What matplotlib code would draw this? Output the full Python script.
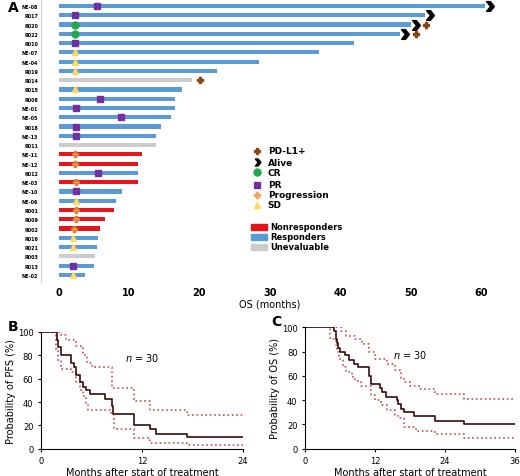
import matplotlib
matplotlib.use("Agg")
import matplotlib.pyplot as plt
from matplotlib.path import Path

# ---- panel A data (top to bottom) ----
patients = ["NE-08", "R017", "R020", "R022", "R010", "NE-07", "NE-04", "R019", "R014", "R015",
            "R008", "NE-01", "NE-05", "R018", "NE-13", "R011", "NE-11", "NE-12", "R012", "NE-03",
            "NE-10", "NE-06", "R001", "R009", "R002", "R016", "R021", "R003", "R013", "NE-02"]
os_months = [60.5, 52, 50, 48.5, 42, 37, 28.5, 22.5, 19, 17.5,
             16.5, 16.5, 16, 14.5, 13.8, 13.8, 11.8, 11.3, 11.3, 11.2,
             9, 8.1, 7.8, 6.6, 5.9, 5.6, 5.5, 5.2, 5, 3.8]
group = ["R", "R", "R", "R", "R", "R", "R", "R", "U", "R",
         "R", "R", "R", "R", "R", "U", "N", "N", "R", "N",
         "R", "R", "N", "N", "N", "R", "R", "U", "R", "R"]
best_resp = ["PR", "PR", "CR", "CR", "PR", "SD", "SD", "SD", None, "SD",
             "PR", "PR", "PR", "PR", "PR", None, "PD", "PD", "PR", "PD",
             "PR", "SD", "PD", "PD", "PD", "SD", "SD", None, "PR", "SD"]
resp_month = [5.5, 2.3, 2.3, 2.3, 2.3, 2.3, 2.3, 2.3, None, 2.3,
              5.8, 2.5, 8.8, 2.5, 2.5, None, 2.3, 2.3, 5.6, 2.4,
              2.5, 2.5, 2.4, 2.4, 2.2, 2.1, 2.1, None, 2.0, 2.0]
alive = ["NE-08", "R017", "R020", "R022"]
pdl1 = {"R020": 51.8, "R022": 50.3, "R014": 19.7}

# ---- KM data ----
pfs_t = [0, 1.9, 2.0, 2.4, 3.6, 3.9, 4.2, 4.6, 5.0, 5.4, 5.8, 7.6, 8.4, 8.6, 11, 13, 13.7, 17.3, 24]
pfs_s = [100, 93, 87, 80, 73, 70, 63, 57, 53, 50, 47, 43, 37, 30, 20, 17, 13, 10, 10]
pfs_hi_t = [0, 2.4, 3.0, 4.2, 5.0, 5.5, 6.0, 8.4, 11, 13, 17.3, 24]
pfs_hi_s = [100, 97, 93, 88, 80, 73, 70, 52, 41, 33, 29, 29]
pfs_lo_t = [0, 1.8, 2.0, 2.4, 3.6, 4.2, 4.6, 5.0, 5.3, 5.6, 8.2, 8.7, 11, 13, 17.3, 24]
pfs_lo_s = [100, 85, 75, 68, 66, 57, 50, 45, 38, 33, 31, 17, 9, 5, 3, 3]

os_t = [0, 4.9, 5.2, 5.4, 5.7, 6.0, 6.8, 7.6, 8.3, 9.0, 11, 11.3, 12.8, 13.2, 13.8, 14.5,
        15.8, 16.0, 16.5, 17.0, 18.7, 19.5, 22.3, 27.3, 36]
os_s = [100, 97, 90, 87, 83, 80, 77, 73, 70, 67, 60, 53, 50, 47, 43, 43,
        40, 37, 33, 30, 27, 27, 23, 20, 20]
os_hi_t = [0, 6.2, 7.0, 8.5, 9.7, 11, 12, 14, 15.5, 16.5, 17, 18, 19.5, 22.3, 27.3, 36]
os_hi_s = [100, 97, 93, 90, 86, 80, 74, 70, 65, 58, 55, 52, 49, 45, 41, 41]
os_lo_t = [0, 4.3, 5.2, 5.5, 5.8, 6.5, 7.0, 8.0, 8.5, 9.5, 11.3, 12, 13, 14, 15.5, 16, 17, 19, 22.3, 27.3, 36]
os_lo_s = [100, 90, 85, 80, 74, 67, 63, 59, 56, 52, 44, 40, 36, 32, 28, 25, 18, 15, 12, 9, 9]

BAR_COL = {"R": "#5b9bd5", "N": "#e8141c", "U": "#cccccc"}
chev = Path([(-0.6, -1), (0.2, 0), (-0.6, 1), (0.2, 1), (1, 0), (0.2, -1), (-0.6, -1)],
            [1, 2, 2, 2, 2, 2, 79])
RESP_STYLE = {"CR": dict(marker="o", color="#22a84a", ms=5),
              "PR": dict(marker="s", color="#7030a0", ms=5),
              "PD": dict(marker="P", color="#f4a460", ms=5, mec="#e07a30"),
              "SD": dict(marker="^", color="#ffd966", ms=5)}

fig = plt.figure(figsize=(5.2, 4.77), dpi=100)
ax = fig.add_axes([0.079, 0.407, 0.88, 0.593])
ys = list(range(len(patients)))
for y, v, g in zip(ys, os_months, group):
    ax.barh(y, v, height=0.45, color=BAR_COL[g])
for y, r, m in zip(ys, best_resp, resp_month):
    if r:
        ax.plot(m, y, linestyle="none", **RESP_STYLE[r])
for p in alive:
    i = patients.index(p)
    ax.plot(os_months[i] + 0.6, i, marker=chev, color="black", ms=7, linestyle="none")
for p, m in pdl1.items():
    i = patients.index(p)
    ax.plot(m + 0.4, i, marker="P", color="#8b4513", ms=5, linestyle="none")
ax.set_yticks(ys)
ax.set_yticklabels(patients, fontsize=3.5, fontweight="bold")
ax.tick_params(axis="y", length=0, pad=2)
ax.tick_params(axis="x", length=0, labelsize=7)
ax.set_xticks([0, 10, 20, 30, 40, 50, 60])
for t in ax.get_xticklabels():
    t.set_fontweight("bold")
ax.set_xlim(-2.5, 62.5)
ax.set_ylim(29.75, -0.75)
for s in ["top", "right", "bottom"]:
    ax.spines[s].set_visible(False)
ax.spines["left"].set_color("#cccccc")
ax.set_xlabel("OS (months)", fontsize=7, labelpad=1)
fig.text(0.015, 0.975, "A", fontsize=10, fontweight="bold")

# legend of panel A
leg_x = 0.495
items = [("P", "#8b4513", "PD-L1+", 152), (chev, "black", "Alive", 163), ("o", "#22a84a", "CR", 173),
         ("s", "#7030a0", "PR", 186), ("P", "#f4a460", "Progression", 196), ("^", "#ffd966", "SD", 206)]
for mk, col, lab, py in items:
    yf = 1 - py / 477
    fig.lines.append(plt.Line2D([leg_x], [yf], marker=mk, color=col, ms=5, linestyle="none",
                                transform=fig.transFigure))
    fig.text(leg_x + 0.02, yf, lab, fontsize=6.5, fontweight="bold", va="center")
for col, lab, py in [("#e8141c", "Nonresponders", 228), ("#5b9bd5", "Responders", 238),
                     ("#cccccc", "Unevaluable", 248)]:
    yf = 1 - py / 477
    fig.patches.append(plt.Rectangle((leg_x - 0.012, yf - 0.006), 0.03, 0.012, color=col,
                                     transform=fig.transFigure))
    fig.text(leg_x + 0.025, yf, lab, fontsize=6, fontweight="bold", va="center")


def km_panel(rect, t, s, hi_t, hi_s, lo_t, lo_s, xmax, ylab, letter):
    a = fig.add_axes(rect)
    a.step(hi_t, hi_s, where="post", color="#c0504d", ls=":", lw=1.2)
    a.step(lo_t, lo_s, where="post", color="#c0504d", ls=":", lw=1.2)
    a.step(t, s, where="post", color="#3a0a0a", lw=1.2)
    a.set_xlim(0, xmax)
    a.set_ylim(0, 100)
    a.set_xticks([0, 12, 24, 36][: xmax // 12 + 1])
    a.set_yticks([0, 20, 40, 60, 80, 100])
    a.tick_params(labelsize=6, length=2)
    for sp in ["top", "right"]:
        a.spines[sp].set_visible(False)
    a.set_xlabel("Months after start of treatment", fontsize=7, labelpad=1)
    a.set_ylabel(ylab, fontsize=7, labelpad=1)
    a.text(0.5, 0.75, r"$n$ = 30", transform=a.transAxes, fontsize=7, ha="center")
    fig.text(rect[0] - 0.065, rect[1] + rect[3] + 0.005, letter, fontsize=10, fontweight="bold")


km_panel([0.079, 0.057, 0.388, 0.245], pfs_t, pfs_s, pfs_hi_t, pfs_hi_s, pfs_lo_t, pfs_lo_s,
         24, "Probability of PFS (%)", "B")
km_panel([0.587, 0.057, 0.403, 0.255], os_t, os_s, os_hi_t, os_hi_s, os_lo_t, os_lo_s,
         36, "Probability of OS (%)", "C")

fig.savefig("out.png", dpi=100)
